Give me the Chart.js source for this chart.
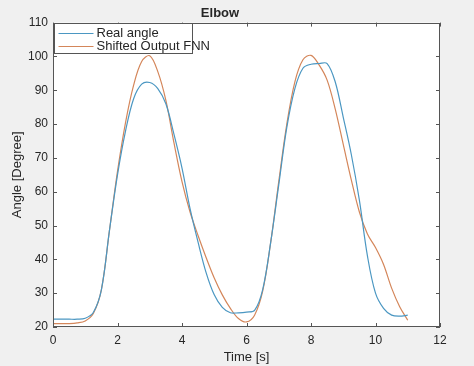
<!DOCTYPE html>
<html>
<head>
<meta charset="utf-8">
<script src="https://cdn.jsdelivr.net/npm/chart.js@4.4.0/dist/chart.umd.min.js"></script>
<style>
html, body { margin: 0; padding: 0; background: #f0f0f0; }
#wrap { width: 474px; height: 366px; }
</style>
</head>
<body>
<div id="wrap"><canvas id="elbow" width="474" height="366"></canvas></div>
<script>
// time axis (s), sampled every 0.25 s
var timeSec = [0, 0.25, 0.5, 0.75, 1, 1.25, 1.5, 1.75, 2, 2.25, 2.5, 2.75, 3, 3.25, 3.5, 3.75, 4, 4.25, 4.5, 4.75, 5,
               5.25, 5.5, 5.75, 6, 6.25, 6.5, 6.75, 7, 7.25, 7.5, 7.75, 8, 8.25, 8.5, 8.75, 9, 9.25, 9.5, 9.75, 10,
               10.25, 10.5, 10.75, 11];
var realAngle = [22.3, 22.3, 22.3, 22.3, 22.6, 24.3, 31, 48.5, 65, 78, 87.5, 91.8, 92.3, 90.5, 86, 77, 67, 55, 45, 36, 29.5,
                 25.8, 24.2, 24.2, 24.4, 24.9, 31, 45, 62, 79, 90.5, 96.5, 97.7, 97.9, 97.9, 92.5, 82, 71, 57.5, 41, 30,
                 25.5, 23.5, 23.2, 23.5];
var fnnOutput = [21, 21, 21, 21.2, 21.8, 24, 31, 48.5, 66, 80.5, 91.5, 98.5, 100.2, 95.5, 87, 74.5, 63, 54, 47, 40.5, 34.5,
                 29.5, 25.5, 22.5, 21.5, 23.5, 30.5, 45, 63, 80, 92.5, 99, 100.3, 97.5, 93, 84.5, 74, 63.5, 54, 47.5, 43.5,
                 38.5, 31.5, 26, 22];
var xTicks = [0, 2, 4, 6, 8, 10, 12];
var yTicks = [20, 30, 40, 50, 60, 70, 80, 90, 100, 110];

function toPoints(xs, ys) {
    var pts = [];
    for (var i = 0; i < xs.length; i++) pts.push({x: xs[i], y: ys[i]});
    return pts;
}

Chart.defaults.font.family = '"Liberation Sans", Arial, sans-serif';
Chart.defaults.color = '#262626';

// white axes box, matlab style inward ticks on all four sides
var axesBox = {
    id: 'axesBox',
    beforeDraw: function(chart) {
        var a = chart.chartArea, ctx = chart.ctx;
        ctx.save();
        ctx.fillStyle = '#ffffff';
        ctx.fillRect(a.left, a.top, a.right - a.left, a.bottom - a.top);
        ctx.restore();
    },
    afterDatasetsDraw: function(chart) {
        var a = chart.chartArea, ctx = chart.ctx;
        var xs = chart.scales.x, ys = chart.scales.y;
        ctx.save();
        ctx.strokeStyle = '#555555';
        ctx.lineWidth = 1;
        ctx.strokeRect(Math.round(a.left) + 0.5, Math.round(a.top) + 0.5,
                       Math.round(a.right - a.left) - 1, Math.round(a.bottom - a.top) - 1);
        ctx.beginPath();
        xTicks.forEach(function(v) {
            var px = Math.round(xs.getPixelForValue(v)) + 0.5;
            ctx.moveTo(px, a.bottom); ctx.lineTo(px, a.bottom - 4);
            ctx.moveTo(px, a.top); ctx.lineTo(px, a.top + 4);
        });
        yTicks.forEach(function(v) {
            var py = Math.round(ys.getPixelForValue(v)) + 0.5;
            ctx.moveTo(a.left, py); ctx.lineTo(a.left + 4, py);
            ctx.moveTo(a.right, py); ctx.lineTo(a.right - 4, py);
        });
        ctx.stroke();
        ctx.restore();
    }
};

// legend box inside the axes, top left
var innerLegend = {
    id: 'innerLegend',
    afterDraw: function(chart) {
        var a = chart.chartArea, ctx = chart.ctx;
        var x0 = Math.round(a.left) + 1.5, y0 = Math.round(a.top) + 0.5;
        var w = 138, h = 30;
        ctx.save();
        ctx.fillStyle = '#ffffff';
        ctx.fillRect(x0, y0, w, h);
        ctx.strokeStyle = '#555555';
        ctx.lineWidth = 1;
        ctx.strokeRect(x0, y0, w, h);
        ctx.font = '13px "Liberation Sans", Arial, sans-serif';
        ctx.textBaseline = 'middle';
        chart.data.datasets.forEach(function(ds, i) {
            var ly = y0 + 9 + i * 13;
            ctx.strokeStyle = ds.borderColor;
            ctx.beginPath();
            ctx.moveTo(x0 + 4, Math.round(ly) + 0.5);
            ctx.lineTo(x0 + 39, Math.round(ly) + 0.5);
            ctx.stroke();
            ctx.fillStyle = '#262626';
            ctx.fillText(ds.label, x0 + 42, ly + 1);
        });
        ctx.restore();
    }
};

var chart = new Chart(document.getElementById('elbow'), {
    type: 'line',
    data: {
        datasets: [{
            label: 'Real angle',
            data: toPoints(timeSec, realAngle),
            borderColor: '#4b97c2',
            borderWidth: 1.2,
            pointRadius: 0,
            tension: 0.35,
            fill: false
        }, {
            label: 'Shifted Output FNN',
            data: toPoints(timeSec, fnnOutput),
            borderColor: '#d4865a',
            borderWidth: 1.2,
            pointRadius: 0,
            tension: 0.35,
            fill: false
        }]
    },
    options: {
        responsive: false,
        animation: false,
        devicePixelRatio: 1,
        layout: { padding: { left: 0, right: 34, top: 0, bottom: 0 } },
        plugins: {
            legend: { display: false },
            tooltip: { enabled: false },
            title: {
                display: true,
                text: 'Elbow',
                font: { size: 13, weight: 'bold' },
                padding: { top: 6, bottom: 1 }
            }
        },
        scales: {
            x: {
                type: 'linear',
                min: 0, max: 12,
                grid: { display: false, drawTicks: false },
                border: { display: false },
                ticks: { stepSize: 2, font: { size: 12 }, padding: 6, maxRotation: 0 },
                title: { display: true, text: 'Time [s]', font: { size: 13 }, padding: { top: 0, bottom: 1 } },
                afterFit: function(scale) { scale.height = 39; }
            },
            y: {
                min: 20, max: 110,
                grid: { display: false, drawTicks: false },
                border: { display: false },
                ticks: { stepSize: 10, font: { size: 12 }, padding: 5 },
                title: { display: true, text: 'Angle [Degree]', font: { size: 13 }, padding: { top: 10, bottom: 0 } },
                afterFit: function(scale) { scale.width = 53; }
            }
        }
    },
    plugins: [axesBox, innerLegend]
});
</script>
</body>
</html>
